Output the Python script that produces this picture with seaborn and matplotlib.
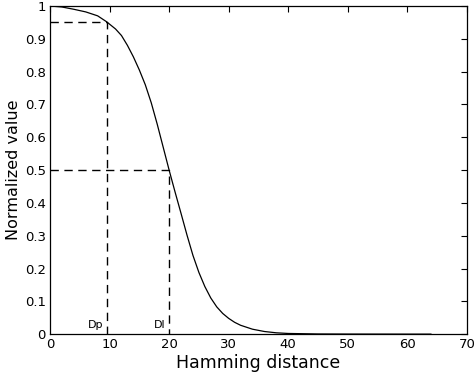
import matplotlib
matplotlib.use("Agg")
import matplotlib.pyplot as plt
import seaborn as sns
import pandas as pd
from matplotlib.ticker import FuncFormatter

hamming = [0, 2, 4, 6, 8, 9.5, 11, 12, 13, 14, 15, 16, 17, 18, 19, 20, 21, 22, 23, 24,
           25, 26, 27, 28, 29, 30, 31, 32, 34, 36, 38, 40, 45, 50, 55, 60, 64]
normalized = [1.0, 0.997, 0.99, 0.982, 0.97, 0.952, 0.93, 0.91, 0.88, 0.845, 0.805, 0.76,
              0.705, 0.64, 0.57, 0.5, 0.433, 0.368, 0.302, 0.24, 0.188, 0.145, 0.11, 0.083,
              0.063, 0.048, 0.036, 0.027, 0.015, 0.008, 0.004, 0.002, 0.0005, 0.0002,
              0.0001, 0.0, 0.0]

dp_x, dp_y = 9.5, 0.95
dl_x, dl_y = 20, 0.5
labels = ["Dp", "Dl"]
x_ticks = [0, 10, 20, 30, 40, 50, 60, 70]
y_ticks = [0, 0.1, 0.2, 0.3, 0.4, 0.5, 0.6, 0.7, 0.8, 0.9, 1]

sns.set_theme(style="white")
plt.rcParams["font.family"] = ["DejaVu Sans"]

fig = plt.figure(figsize=(4.74, 3.75), dpi=100)
ax = fig.add_axes([0.1055, 0.109, 0.8795, 0.875])

df = pd.DataFrame({"Hamming distance": hamming, "Normalized value": normalized})
sns.lineplot(data=df, x="Hamming distance", y="Normalized value", ax=ax,
             color="black", linewidth=0.9, estimator=None, sort=False)

dash = (0, (6, 4))
ax.plot([0, dp_x, dp_x], [dp_y, dp_y, 0], color="black", linewidth=1.0, linestyle=dash)
ax.plot([0, dl_x, dl_x], [dl_y, dl_y, 0], color="black", linewidth=1.0, linestyle=dash)

ax.text(dp_x - 0.6, 0.012, labels[0], ha="right", va="bottom", fontsize=8, color="black")
ax.text(dl_x - 0.6, 0.012, labels[1], ha="right", va="bottom", fontsize=8, color="black")

ax.set_xlim(0, 70)
ax.set_ylim(0, 1)
ax.set_xticks(x_ticks)
ax.set_yticks(y_ticks)
ax.yaxis.set_major_formatter(FuncFormatter(lambda v, p: f"{v:g}"))
ax.tick_params(direction="in", length=4, width=0.8, top=True, right=True,
               labelsize=9.5, colors="black", pad=3)
for s in ax.spines.values():
    s.set_color("black")
    s.set_linewidth(0.9)
    s.set_visible(True)

ax.set_xlabel("Hamming distance", fontsize=12.5, color="black", labelpad=2)
ax.set_ylabel("Normalized value", fontsize=11.5, color="black", labelpad=3)

fig.savefig("out.png", dpi=100)
